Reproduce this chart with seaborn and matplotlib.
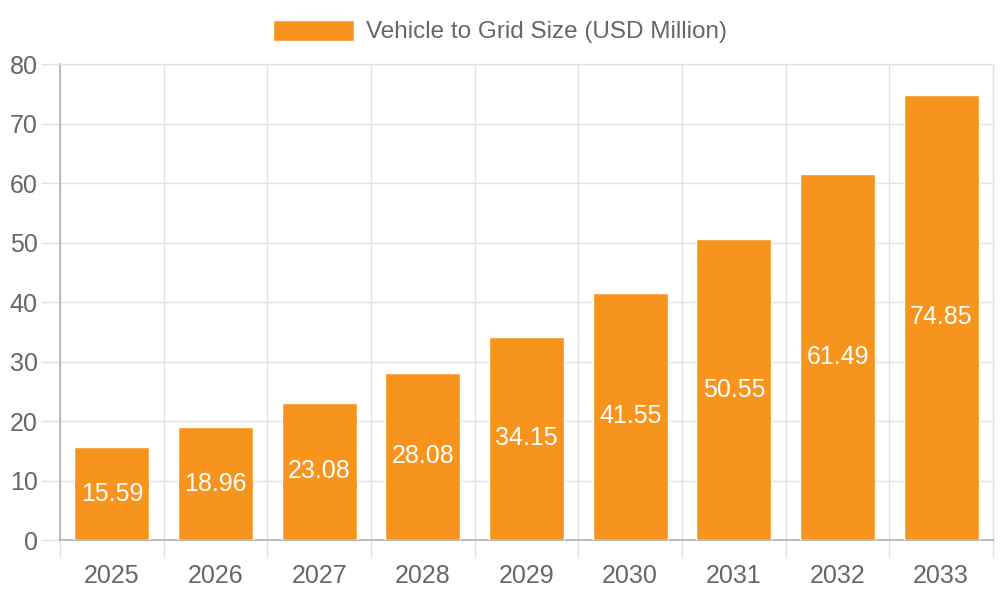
import numpy as np
import seaborn as sns
from matplotlib import pyplot as plt
from matplotlib.ticker import FixedLocator

years = ["2025", "2026", "2027", "2028", "2029", "2030", "2031", "2032", "2033"]
values = [15.59, 18.96, 23.08, 28.08, 34.15, 41.55, 50.55, 61.49, 74.85]
series_name = "Vehicle to Grid Size (USD Million)"

sns.set_theme(style="white")
plt.rcParams["font.family"] = ["Liberation Sans", "DejaVu Sans"]

orange = "#F7941D"
grid_c = "#e2e2e2"
axis_c = "#b0b0b0"
text_c = "#666666"

fig = plt.figure(figsize=(10, 6), dpi=100)
ax = fig.add_axes([0.06, 0.1, 0.933, 0.7933])

sns.barplot(x=years, y=values, color=orange, width=0.723, saturation=1,
            label=series_name, ax=ax, zorder=3)

ax.bar_label(ax.containers[0], fmt="%.2f", label_type="center",
             color="white", fontsize=18)

ax.set_xlim(-0.5, len(years) - 0.5)
ax.set_ylim(0, 80)
ax.set_yticks(np.arange(0, 81, 10))
ax.set_xlabel("")
ax.set_ylabel("")

# grid: horizontal at y ticks, vertical at category boundaries
ax.xaxis.set_minor_locator(FixedLocator(np.arange(-0.5, len(years), 1)))
ax.grid(axis="y", which="major", color=grid_c, linewidth=1, zorder=0)
ax.grid(axis="x", which="minor", color=grid_c, linewidth=1, zorder=0)
ax.set_axisbelow(True)

ax.tick_params(axis="x", which="major", length=0, pad=17,
               labelsize=18, labelcolor=text_c)
ax.tick_params(axis="x", which="minor", length=13, width=1, color=grid_c,
               bottom=True)
ax.tick_params(axis="y", length=14, width=1, color=grid_c, pad=2,
               labelsize=18, labelcolor=text_c, left=True)

for side in ["left", "bottom"]:
    ax.spines[side].set_color(axis_c)
    ax.spines[side].set_linewidth(1.2)
for side in ["top", "right"]:
    ax.spines[side].set_color(grid_c)
    ax.spines[side].set_linewidth(1)

if ax.get_legend():
    ax.get_legend().remove()
handles, labels = ax.get_legend_handles_labels()
fig.legend(handles, labels, loc="center", bbox_to_anchor=(0.5, 0.9475),
           frameon=False, fontsize=17.5, labelcolor=text_c,
           handlelength=3.3, handleheight=0.95, handletextpad=0.5)

fig.savefig("out.png", dpi=100)
